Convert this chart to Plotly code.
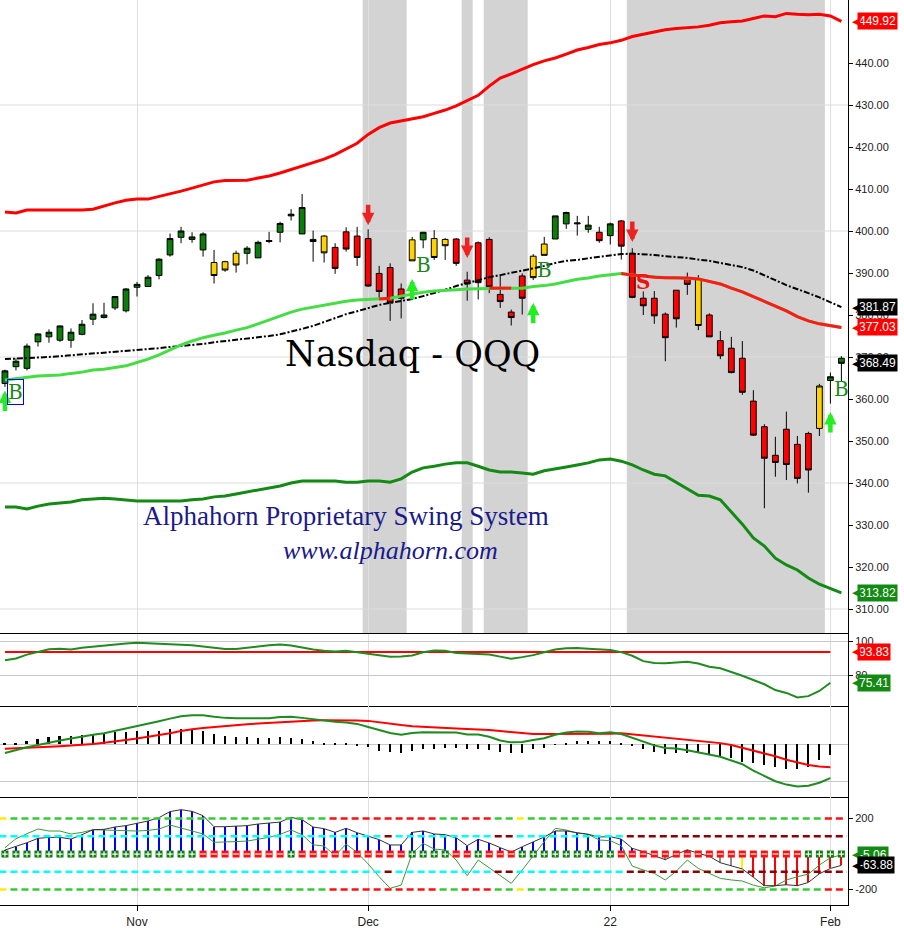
import plotly.graph_objects as go

# ---------------- data ----------------
DATES = [
    "2021-10-14", "2021-10-15", "2021-10-18", "2021-10-19", "2021-10-20", "2021-10-21", "2021-10-22",
    "2021-10-25", "2021-10-26", "2021-10-27", "2021-10-28", "2021-10-29",
    "2021-11-01", "2021-11-02", "2021-11-03", "2021-11-04", "2021-11-05", "2021-11-08", "2021-11-09",
    "2021-11-10", "2021-11-11", "2021-11-12", "2021-11-15", "2021-11-16", "2021-11-17", "2021-11-18",
    "2021-11-19", "2021-11-22", "2021-11-23", "2021-11-24", "2021-11-26", "2021-11-29", "2021-11-30",
    "2021-12-01", "2021-12-02", "2021-12-03", "2021-12-06", "2021-12-07", "2021-12-08", "2021-12-09",
    "2021-12-10", "2021-12-13", "2021-12-14", "2021-12-15", "2021-12-16", "2021-12-17", "2021-12-20",
    "2021-12-21", "2021-12-22", "2021-12-23", "2021-12-27", "2021-12-28", "2021-12-29", "2021-12-30",
    "2021-12-31",
    "2022-01-03", "2022-01-04", "2022-01-05", "2022-01-06", "2022-01-07", "2022-01-10", "2022-01-11",
    "2022-01-12", "2022-01-13", "2022-01-14", "2022-01-18", "2022-01-19", "2022-01-20", "2022-01-21",
    "2022-01-24", "2022-01-25", "2022-01-26", "2022-01-27", "2022-01-28", "2022-01-31",
    "2022-02-01", "2022-02-02",
]
TICK_DATES = ["2021-11-01", "2021-12-01", "2022-01-03", "2022-02-01"]
TICK_TEXT = ["Nov", "Dec", "22", "Feb"]

OPEN = [363.7, 367.7, 367.3, 373.6, 374.8, 374.0, 374.0, 375.4, 379.0, 379.4, 381.7, 381.0,
        386.6, 386.8, 389.4, 394.3, 398.5, 398.0, 395.5, 392.5, 392.7, 394.7, 394.7, 393.6,
        397.5, 399.7, 403.6, 399.3, 398.0, 398.8, 396.1, 399.8, 398.8, 398.2, 389.9, 391.3,
        386.2, 397.9, 397.9, 398.2, 398.0, 398.1, 388.3, 397.2, 398.0, 384.9, 380.7, 389.3,
        394.0, 396.9, 398.1, 401.7, 401.7, 400.4, 399.7, 398.9, 402.4, 394.7, 384.0, 384.0,
        380.2, 385.9, 388.9, 388.7, 380.0, 373.9, 372.1, 369.7, 359.5, 353.4, 346.6, 352.8,
        349.2, 351.8, 353.0, 364.4, 369.7]
HIGH = [367.0, 369.7, 373.2, 375.6, 376.6, 377.5, 376.8, 378.8, 382.8, 382.9, 384.5, 386.4,
        387.9, 389.5, 393.5, 399.4, 401.0, 399.7, 399.7, 395.5, 392.9, 395.3, 396.4, 397.7,
        399.8, 402.2, 405.2, 408.8, 400.1, 399.0, 397.1, 400.9, 401.0, 400.4, 391.7, 392.3,
        387.5, 398.6, 399.8, 400.2, 398.3, 398.3, 390.3, 397.5, 398.5, 389.5, 381.3, 389.9,
        394.5, 398.6, 403.6, 404.6, 403.6, 403.6, 401.0, 402.0, 402.6, 395.9, 385.6, 385.7,
        380.6, 385.9, 390.1, 389.5, 380.4, 376.2, 374.8, 373.8, 362.1, 354.0, 351.0, 357.0,
        351.2, 352.2, 363.6, 366.3, 370.2]
LOW = [362.9, 366.8, 366.8, 372.5, 373.4, 373.6, 372.2, 375.2, 377.6, 379.2, 381.2, 380.6,
       384.4, 386.8, 388.5, 393.9, 397.1, 397.2, 393.9, 387.5, 390.3, 390.1, 392.1, 393.6,
       397.1, 397.3, 402.5, 399.3, 392.7, 392.5, 389.8, 395.1, 391.7, 386.7, 383.6, 378.6,
       379.2, 392.9, 395.9, 393.1, 393.1, 391.7, 383.4, 383.7, 385.2, 381.7, 377.5, 380.1,
       388.3, 394.2, 398.1, 400.5, 398.9, 399.6, 397.2, 396.8, 393.2, 384.0, 380.0, 377.9,
       369.0, 377.0, 384.8, 376.4, 374.8, 369.5, 366.1, 361.0, 351.2, 334.0, 341.5, 340.7,
       339.9, 337.7, 351.2, 358.9, 364.1]
CLOSE = [366.7, 369.0, 372.6, 375.5, 375.9, 377.4, 375.9, 377.8, 380.2, 380.0, 384.4, 386.2,
         387.3, 389.0, 393.3, 398.2, 400.0, 398.6, 399.3, 389.4, 390.7, 391.9, 395.9, 397.3,
         397.7, 401.8, 404.0, 405.6, 397.5, 394.8, 391.1, 395.7, 393.7, 386.9, 385.6, 382.9,
         384.0, 392.9, 399.7, 393.7, 396.5, 392.3, 387.4, 387.7, 386.7, 383.2, 379.4, 384.0,
         388.9, 394.2, 403.6, 404.4, 401.9, 401.4, 397.7, 401.7, 396.4, 384.2, 382.2, 379.8,
         374.6, 379.1, 387.3, 377.5, 374.8, 370.3, 366.3, 361.6, 351.4, 345.9, 344.9, 344.4,
         341.1, 343.1, 363.1, 365.3, 368.49]
# g = green, y = yellow, r = red (system colour of each candle)
CANDLE_CODE = ("ggggggggggggggggggg" "yyy" "gggggg" "yy" "rrrrrrr" "y" "g" "yy"
               "rrrrrrr" "yy" "gggg" "r" "g" "rrrrrrr" "y" "rrrrrrrrrr" "y" "ggg")

UPPER_BAND = [404.5, 404.3, 405.0, 405.0, 405.0, 405.0, 405.0, 405.0, 405.2, 406.0, 406.7, 407.3,
              407.6, 407.6, 408.2, 408.8, 409.5, 410.2, 410.9, 411.7, 412.0, 412.1, 412.1, 412.6,
              413.1, 413.8, 414.6, 415.4, 416.3, 417.1, 418.2, 419.5, 420.9, 423.0, 424.6, 425.7,
              426.2, 426.7, 427.2, 428.0, 428.8, 429.8, 431.0, 432.3, 434.5, 436.4, 437.4, 438.5,
              439.6, 440.5, 441.2, 442.1, 443.1, 443.7, 444.4, 444.8, 445.4, 446.3, 446.8, 447.4,
              447.9, 448.2, 448.4, 448.6, 449.0, 449.6, 449.8, 450.0, 450.6, 451.2, 451.0, 451.8,
              451.6, 451.5, 451.6, 451.2, 449.92]
LOWER_BAND = [334.3, 334.3, 333.8, 334.5, 335.0, 335.2, 335.5, 336.0, 336.2, 336.4, 336.2, 336.0,
              335.7, 335.7, 335.7, 335.7, 335.7, 336.0, 336.2, 336.7, 336.9, 337.4, 337.9, 338.3,
              338.8, 339.3, 340.0, 340.5, 340.5, 340.5, 340.5, 340.2, 340.2, 340.5, 340.5, 340.2,
              341.0, 342.6, 343.6, 344.0, 344.5, 344.8, 344.8, 344.0, 343.1, 342.6, 342.6, 342.4,
              342.1, 342.9, 343.3, 343.8, 344.3, 344.8, 345.5, 345.7, 345.2, 344.3, 343.1, 342.1,
              341.7, 340.2, 338.8, 337.1, 336.9, 336.0, 333.1, 330.2, 326.9, 325.0, 322.1, 320.5,
              319.3, 317.4, 315.9, 314.8, 313.82]
FAST_MA = [364.5, 364.8, 365.2, 365.5, 365.6, 365.7, 366.1, 366.4, 366.9, 367.1, 367.5, 367.9,
           368.7, 369.5, 370.5, 371.7, 372.9, 373.8, 374.6, 375.2, 375.7, 376.4, 377.0, 377.9,
           378.8, 379.8, 380.7, 381.4, 381.9, 382.4, 382.9, 383.3, 383.6, 383.7, 383.8, 384.0,
           384.5, 385.0, 385.4, 385.7, 385.8, 386.0, 386.2, 386.3, 386.4, 386.4, 386.4, 386.4,
           386.8, 387.0, 387.4, 388.0, 388.5, 388.8, 389.3, 389.6, 389.9, 389.5, 389.3, 389.0,
           388.9, 388.9, 388.8, 388.6, 388.0, 387.4, 386.4, 385.5, 384.4, 383.3, 382.1, 381.0,
           379.6, 378.6, 377.9, 377.4, 377.03]
# u = rising (lime), d = falling (red)
FAST_MA_STATE = ("uuuuuuuuuuuuuuuuuuuuuuuuuuuuuuuuuu" "dd" "uuuuuuuu" "ddd"
                 "uuuuuuuuu" "ddddddddddddddddddddd")
SLOW_MA = [369.5, 369.6, 369.8, 369.9, 370.0, 370.2, 370.4, 370.6, 370.8, 371.0, 371.2, 371.4,
           371.7, 371.9, 372.1, 372.4, 372.6, 372.9, 373.1, 373.5, 373.8, 374.0, 374.3, 374.6,
           375.0, 375.4, 376.0, 376.7, 377.4, 378.3, 379.3, 380.2, 380.9, 381.7, 382.4, 382.9,
           383.3, 383.8, 384.5, 385.2, 386.0, 386.9, 387.6, 388.3, 389.0, 389.5, 390.0, 390.5,
           391.1, 391.7, 392.4, 392.9, 393.1, 393.5, 393.8, 394.2, 394.5, 394.6, 394.5, 394.3,
           394.0, 393.8, 393.6, 393.2, 392.9, 392.4, 391.9, 391.4, 390.6, 389.5, 388.3, 387.1,
           386.2, 385.2, 384.2, 383.1, 381.87]

SHADE_RANGES = [("2021-11-30", "2021-12-06"), ("2021-12-13", "2021-12-14"),
                ("2021-12-15", "2021-12-21"), ("2022-01-04", "2022-01-31")]
GRID_LEVELS = [310, 340, 370, 400, 430]

BUY_ARROW_DATES = ["2021-10-14", "2021-12-07", "2021-12-22", "2022-02-01"]
BUY_ARROW_PRICES = [362.0, 388.6, 382.9, 356.9]
SELL_ARROW_DATES = ["2021-12-01", "2021-12-14", "2022-01-05"]
SELL_ARROW_PRICES = [401.4, 393.6, 397.4]
BUY_TEXT_DATES = ["2021-10-15", "2021-12-08", "2021-12-23", "2022-02-02"]
BUY_TEXT_PRICES = [361.7, 391.9, 390.7, 362.4]
SELL_TEXT_DATES = ["2022-01-06"]
SELL_TEXT_PRICES = [387.9]

RSI = [88.8, 89.9, 92.2, 94.0, 95.4, 95.7, 95.3, 96.3, 97.0, 97.5, 98.2, 98.9,
       99.3, 99.2, 98.7, 98.4, 98.2, 97.8, 97.0, 96.2, 95.5, 95.6, 96.5, 97.1,
       97.8, 98.3, 97.6, 96.3, 95.3, 94.5, 94.1, 94.5, 93.6, 92.9, 91.8, 90.9,
       91.1, 91.7, 93.6, 94.7, 94.5, 93.2, 92.8, 92.6, 92.3, 91.0, 89.7, 90.7,
       91.9, 93.6, 95.2, 96.0, 96.2, 95.7, 95.2, 95.0, 93.7, 91.5, 88.3, 87.2,
       87.0, 87.6, 87.9, 86.9, 85.0, 84.0, 82.0, 79.6, 77.0, 74.5, 71.0, 69.3,
       66.6, 67.4, 70.5, 75.41]
RSI_REF = 93.83

MACD = [-2.3, -1.5, -0.8, -0.2, 0.5, 1.0, 1.5, 2.1, 2.5, 2.9, 3.5, 4.1,
        4.7, 5.4, 6.1, 6.8, 7.4, 7.7, 7.7, 7.3, 7.0, 6.9, 6.9, 6.9,
        6.9, 7.2, 7.3, 7.0, 6.6, 6.3, 6.0, 5.8, 5.4, 4.6, 3.7, 3.0,
        2.5, 3.0, 3.2, 3.2, 3.2, 3.1, 2.6, 2.6, 2.0, 1.0, 0.5, 0.6,
        1.1, 1.6, 2.5, 3.1, 3.4, 3.3, 2.9, 3.2, 2.7, 1.7, 0.6, -0.3,
        -1.0, -1.1, -1.6, -2.2, -2.7, -3.3, -4.3, -5.3, -7.0, -8.5, -9.8, -10.7,
        -11.2, -11.0, -10.2, -9.0]
MACD_SIGNAL = [-1.2, -1.1, -1.0, -0.8, -0.65, -0.5, -0.35, -0.2, 0.1, 0.4, 0.7, 1.1,
               1.5, 1.9, 2.3, 2.9, 3.5, 4.0, 4.3, 4.6, 4.8, 5.1, 5.3, 5.5,
               5.7, 5.9, 6.1, 6.2, 6.3, 6.35, 6.4, 6.35, 6.3, 6.2, 5.8, 5.4,
               5.1, 4.8, 4.6, 4.4, 4.25, 4.15, 4.05, 4.0, 3.8, 3.5, 3.2, 2.9,
               2.7, 2.7, 2.7, 2.7, 2.7, 2.7, 2.7, 2.8, 2.9, 2.6, 2.3, 2.0,
               1.8, 1.5, 1.3, 1.0, 0.7, 0.3, -0.2, -0.9, -1.6, -2.4, -3.2, -4.1,
               -4.9, -5.5, -5.9, -6.1]
MACD_HIST = [0.3, 0.4, 0.9, 1.4, 1.9, 2.2, 2.3, 2.4, 2.8, 2.9, 3.2, 3.3,
             3.4, 3.5, 3.6, 4.1, 4.1, 3.8, 3.6, 2.7, 2.2, 2.0, 1.8, 1.6,
             1.6, 1.8, 1.6, 1.3, 0.9, 0.4, 0.2, 0.1, -0.3, -0.8, -1.7, -2.0,
             -2.4, -1.9, -1.2, -1.2, -1.0, -1.0, -1.2, -1.3, -1.5, -2.0, -2.2, -2.2,
             -1.3, -1.1, 0.05, 0.3, 0.8, 0.9, 0.9, 0.8, 0.3, -0.4, -1.2, -2.0,
             -2.6, -2.2, -2.2, -2.4, -2.6, -3.3, -3.7, -4.6, -5.0, -5.5, -6.1, -6.6,
             -6.6, -5.9, -4.1, -2.8]

CCI = [22.5, 41.3, 63.8, 88.3, 93.9, 93.9, 84.5, 109, 137, 139, 152, 160,
       173, 186, 205, 239, 250, 240, 216, 154, 154, 156, 160, 169,
       173, 180, 207, 193, 152, 143, 122, 145, 120, 100, 81, 51,
       51, 122, 130, 113, 109, 92, 47, 83, 62, 36, 11, 41,
       68, 96, 130, 130, 120, 111, 96, 98, 84, 32, 13, -7.5, -32, -2,
       24, 4, -13, -49, -67, -84, -131, -178, -178, -173, -178, -160, -111, -81, -63.88]
CCI_FAST = [35.7, 86.4, 114.6, 141, 129.6, 129.6, 112.7, 122, 137, 135, 131, 129.6,
            129.6, 133, 141, 163.4, 148, 129.6, 113, 66, 66, 70, 73, 83,
            94, 111, 135, 109, 52, 45, -9, 56, 9, -56, -128, -193,
            -175, 4, 60, 28, 23, -34, -122, -34, -77, -118, -165, -90,
            -7.5, 70, 145, 135, 118, 111, 79, 75, 47, -68, -90, -109, -146, -96,
            -34, -81, -109, -137, -146, -152, -175, -190, -180, -146, -128, -113, -62, -21, -5.06]
ZERO_SIGN = ("++++++++++++++++++" "--------" "+" "----------" "++++" "--" "+" "---"
             "+++++++++" "-----------------" "++++")
# b = blue, k = grey, y = yellow, r = red
STEM_CODE = ("bbbbbbbbbbbbbbbbbbbbbbbbbbbbbbbbbbbbbbbbbbbbbbbbbbbbbbbbbbb"
             "kkk" "bb" "kkk" "y" "rrrrrrrrr")
OUTER_LEVEL = 200
INNER_LEVEL = 100
# y = yellow, g = green, r = red
OUTER_CODE = ("y" "ggggggggggggggggggggggggggggg" "rrrrrrrrrr" "gg" "rrr" "gg" "y"
              "ggggggggggggggggggggggggggg" "rr")
# c = cyan, d = dark red
INNER_CODE = ("ccccccccccccccccccccccccccccccccccc" "d" "ccccccccc" "dd" "cccccccccc"
              "dddddddddddddddddddd")

# ---------------- styling ----------------
CANDLE_FILL = {"g": "#0b7d0b", "y": "#ffd200", "r": "#ff0000"}
OUTER_COL = {"y": "#ffee00", "g": "#33cc33", "r": "#ff1010"}
INNER_COL = {"c": "#00ffff", "d": "#8b0000"}
STEM_COL = {"b": "#0000ff", "k": "#909090", "y": "#ffee00", "r": "#ff0000"}
N = len(DATES)
IDX = {d: i for i, d in enumerate(DATES)}

fig = go.Figure()

for code, col in CANDLE_FILL.items():
    sel = [i for i in range(N) if CANDLE_CODE[i] == code]
    fig.add_trace(go.Candlestick(
        x=[DATES[i] for i in sel],
        open=[OPEN[i] for i in sel], high=[HIGH[i] for i in sel],
        low=[LOW[i] for i in sel], close=[CLOSE[i] for i in sel],
        increasing=dict(fillcolor=col, line=dict(color="black", width=1)),
        decreasing=dict(fillcolor=col, line=dict(color="black", width=1)),
        whiskerwidth=0, xaxis="x", yaxis="y", showlegend=False, hoverinfo="skip"))

fig.add_trace(go.Scatter(x=DATES, y=UPPER_BAND, mode="lines",
                         line=dict(color="#ff0000", width=3), xaxis="x", yaxis="y"))
fig.add_trace(go.Scatter(x=DATES, y=LOWER_BAND, mode="lines",
                         line=dict(color="#138a13", width=3), xaxis="x", yaxis="y"))
fig.add_trace(go.Scatter(x=DATES, y=SLOW_MA, mode="lines",
                         line=dict(color="black", width=2, dash="6px,2px,2px,2px"),
                         xaxis="x", yaxis="y"))
fig.add_trace(go.Scatter(x=DATES, y=FAST_MA, mode="lines",
                         line=dict(color="#44dd44", width=3), xaxis="x", yaxis="y"))
fig.add_trace(go.Scatter(x=DATES, y=[v if FAST_MA_STATE[i] == "d" else None
                                     for i, v in enumerate(FAST_MA)],
                         mode="lines", line=dict(color="#ff1a1a", width=3),
                         xaxis="x", yaxis="y"))

D76 = DATES[:len(RSI)]
fig.add_trace(go.Scatter(x=D76, y=[RSI_REF] * len(D76), mode="lines",
                         line=dict(color="#ff0000", width=2), xaxis="x2", yaxis="y2"))
fig.add_trace(go.Scatter(x=D76, y=RSI, mode="lines",
                         line=dict(color="#1e8c1e", width=2), xaxis="x2", yaxis="y2"))

fig.add_trace(go.Bar(x=D76, y=MACD_HIST, marker=dict(color="black", line=dict(width=0)),
                     width=0.18, xaxis="x3", yaxis="y3"))
fig.add_trace(go.Scatter(x=D76, y=MACD_SIGNAL, mode="lines",
                         line=dict(color="#ff0000", width=2), xaxis="x3", yaxis="y3"))
fig.add_trace(go.Scatter(x=D76, y=MACD, mode="lines",
                         line=dict(color="#1e8c1e", width=2), xaxis="x3", yaxis="y3"))

fig.add_trace(go.Bar(x=DATES, y=CCI, marker=dict(color=[STEM_COL[c] for c in STEM_CODE],
                                                 line=dict(width=0)),
                     width=0.12, xaxis="x4", yaxis="y4"))
fig.add_trace(go.Scatter(x=DATES, y=CCI_FAST, mode="lines",
                         line=dict(color="#3a9a3a", width=1), xaxis="x4", yaxis="y4"))
fig.add_trace(go.Scatter(x=DATES, y=CCI, mode="lines",
                         line=dict(color="#333333", width=1), xaxis="x4", yaxis="y4"))
for sign, col, sym in (("+", "#0b7d0b", "cross-thin"), ("-", "#ff1010", "line-ew")):
    xs = [DATES[i] for i in range(N) if ZERO_SIGN[i] == sign]
    fig.add_trace(go.Scatter(x=xs, y=[0] * len(xs), mode="markers",
                             marker=dict(symbol="square", size=7, color=col,
                                         line=dict(width=0)),
                             xaxis="x4", yaxis="y4"))
    fig.add_trace(go.Scatter(x=xs, y=[0] * len(xs), mode="markers",
                             marker=dict(symbol=sym, size=4,
                                         line=dict(width=1.2, color="white")),
                             xaxis="x4", yaxis="y4"))

# ---------------- shapes ----------------
shapes = []
for a, b in SHADE_RANGES:
    shapes.append(dict(type="rect", xref="x", yref="y domain", x0=IDX[a] + 0.5,
                       x1=IDX[b] + 0.5, y0=0, y1=1, fillcolor="#d3d3d3",
                       line=dict(width=0), layer="below"))
for lv in GRID_LEVELS:
    shapes.append(dict(type="line", xref="x domain", yref="y", x0=0, x1=1, y0=lv, y1=lv,
                       line=dict(color="#dcdcdc", width=1), layer="below"))


def runs(codes):
    out, start = [], 0
    for i in range(1, len(codes) + 1):
        if i == len(codes) or codes[i] != codes[start]:
            out.append((start, i - 1, codes[start]))
            start = i
    return out


for lv in (OUTER_LEVEL, -OUTER_LEVEL):
    for s, e, c in runs(OUTER_CODE):
        shapes.append(dict(type="line", xref="x4", yref="y4", x0=s - 0.5, x1=e + 0.5,
                           y0=lv, y1=lv, line=dict(color=OUTER_COL[c], width=2.5,
                                                    dash="7px,4px")))
for lv in (INNER_LEVEL, -INNER_LEVEL):
    for s, e, c in runs(INNER_CODE):
        shapes.append(dict(type="line", xref="x4", yref="y4", x0=s - 0.5, x1=e + 0.5,
                           y0=lv, y1=lv, line=dict(color=INNER_COL[c], width=2.5,
                                                    dash="7px,4px")))

# ---------------- annotations ----------------
ann = []
for d, p in zip(BUY_ARROW_DATES, BUY_ARROW_PRICES):
    ann.append(dict(x=d, y=p, xref="x", yref="y", showarrow=True, ax=0, ay=22,
                    arrowhead=2, arrowsize=0.55, arrowwidth=4.5, arrowcolor="#22ee22",
                    text=""))
for d, p in zip(SELL_ARROW_DATES, SELL_ARROW_PRICES):
    ann.append(dict(x=d, y=p, xref="x", yref="y", showarrow=True, ax=0, ay=-22,
                    arrowhead=2, arrowsize=0.55, arrowwidth=4.5, arrowcolor="#ee2222",
                    text=""))
for k, (d, p) in enumerate(zip(BUY_TEXT_DATES, BUY_TEXT_PRICES)):
    a = dict(x=d, y=p, xref="x", yref="y", showarrow=False, text="B",
             font=dict(family="DejaVu Serif", size=20, color="#188818"))
    if k == 0:
        a.update(bordercolor="#0000ff", borderwidth=1, borderpad=0)
    ann.append(a)
for d, p in zip(SELL_TEXT_DATES, SELL_TEXT_PRICES):
    ann.append(dict(x=d, y=p, xref="x", yref="y", showarrow=False, text="<b>S</b>",
                    font=dict(family="DejaVu Serif", size=20, color="#ee1111")))

ann.append(dict(x=0.486, y=0.609, xref="paper", yref="paper", showarrow=False,
                text="Nasdaq - QQQ",
                font=dict(family="DejaVu Serif", size=35, color="black")))
ann.append(dict(x=0.408, y=0.4298, xref="paper", yref="paper", showarrow=False,
                text="Alphahorn Proprietary Swing System",
                font=dict(family="Liberation Serif", size=27, color="#1a1a8c")))
ann.append(dict(x=0.461, y=0.3912, xref="paper", yref="paper", showarrow=False,
                text="<i>www.alphahorn.com</i>",
                font=dict(family="Liberation Serif", size=26, color="#1a1a8c")))

TAGS = [("y", UPPER_BAND[-1], "#ff0000"), ("y", SLOW_MA[-1], "black"),
        ("y", FAST_MA[-1], "#ff0000"), ("y", CLOSE[-1], "black"),
        ("y", LOWER_BAND[-1], "#138a13"), ("y2", RSI_REF, "#ff0000"),
        ("y2", RSI[-1], "#138a13"), ("y4", CCI_FAST[-1], "#138a13"),
        ("y4", CCI[-1], "black")]
for yref, v, col in TAGS:
    ann.append(dict(x=1, y=v, xref="paper", yref=yref, xanchor="left", xshift=9,
                    showarrow=False, text=f"{v:.2f}", bgcolor=col, borderpad=1,
                    font=dict(family="Liberation Sans", size=12, color="white")))
    ann.append(dict(x=1, y=v, xref="paper", yref=yref, xanchor="left", xshift=2,
                    showarrow=False, text="◀",
                    font=dict(family="DejaVu Sans", size=11, color=col)))

# ---------------- layout ----------------
xcommon = dict(type="category", categoryorder="array", categoryarray=DATES,
               range=[-0.45, 76.6], tickvals=TICK_DATES, showgrid=True,
               gridcolor="#dedede", zeroline=False, showline=True,
               linecolor="black", linewidth=1.2, fixedrange=True)
tickfont = dict(family="Liberation Sans", size=11, color="#222222")

fig.update_layout(
    width=904, height=936, margin=dict(l=0, r=56, t=0, b=31, autoexpand=False),
    paper_bgcolor="white", plot_bgcolor="white", showlegend=False,
    boxgap=0.25, bargap=0, shapes=shapes, annotations=ann,
    xaxis=dict(**xcommon, domain=[0, 1], anchor="y", showticklabels=False, ticks="",
               rangeslider=dict(visible=False)),
    xaxis2=dict(**xcommon, domain=[0, 1], anchor="y2", matches="x",
                showticklabels=False, ticks=""),
    xaxis3=dict(**xcommon, domain=[0, 1], anchor="y3", matches="x",
                showticklabels=False, ticks=""),
    xaxis4=dict(**xcommon, domain=[0, 1], anchor="y4", matches="x",
                ticktext=TICK_TEXT, ticks="outside", ticklen=5, tickcolor="black",
                tickfont=dict(family="Liberation Sans", size=12, color="#222222")),
    yaxis=dict(domain=[0.3006, 1], anchor="x", side="right", range=[304.3, 455.0],
               tickvals=[310 + 10 * k for k in range(14)],
               ticktext=[f"{310 + 10 * k:.2f}" for k in range(14)],
               ticks="outside", ticklen=4, tickcolor="black", showgrid=False,
               zeroline=False, showline=True, linecolor="black", tickfont=tickfont),
    yaxis2=dict(domain=[0.2199, 0.2994], anchor="x2", side="right", range=[61.5, 104.5],
                tickvals=[80, 100], ticks="outside", ticklen=4, tickcolor="black",
                showgrid=True, gridcolor="#c8c8c8", zeroline=False, showline=True,
                linecolor="black", tickfont=tickfont),
    yaxis3=dict(domain=[0.1193, 0.2199], anchor="x3", side="right", range=[-14.0, 10.15],
                tickvals=[-10, 0], showticklabels=False, showgrid=True,
                gridcolor="#c8c8c8", zeroline=False, showline=True, linecolor="black"),
    yaxis4=dict(domain=[0, 0.1193], anchor="x4", side="right", range=[-287, 321],
                tickvals=[200, -200], ticktext=["200", "-200"], ticks="outside",
                ticklen=4, tickcolor="black", showgrid=False, zeroline=False,
                showline=True, linecolor="black", tickfont=tickfont),
)

fig.write_html("out.html", config={"displayModeBar": False},
               post_script="document.body.style.margin='0';"
                           "document.body.style.overflow='hidden';")
